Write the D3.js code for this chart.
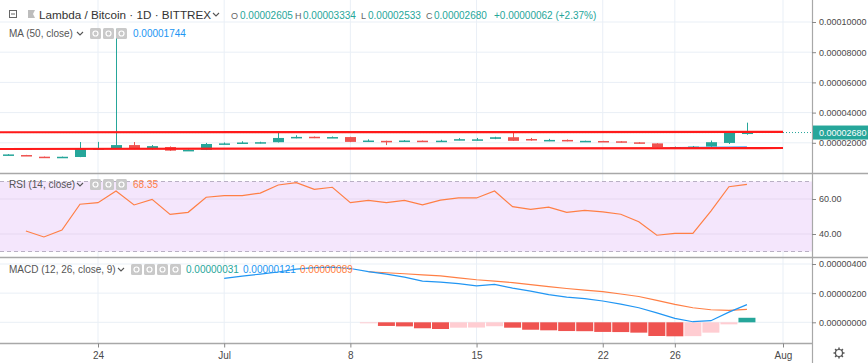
<!DOCTYPE html>
<html lang="en">
<head>
<meta charset="UTF-8">
<title>Lambda / Bitcoin</title>
<script src="https://d3js.org/d3.v7.min.js"></script>
<style>
  body { margin: 0; background: #fff; }
  svg { display: block; font-family: "Liberation Sans", Arial, sans-serif; }
</style>
</head>
<body>
<div id="chart"></div>
<script>
// daily candles from Jun 19 to Jul 30, prices in satoshi
const firstDay = Date.UTC(2018, 5, 19);
const SAT = 1e-8;
const opens  = [1200,1190,1080,1050,1060,1600,1600,1850,1600,1720,1480,1530,1920,1960,1980,2040,2330,2400,2330,2380,2090,2130,2100,2140,2080,2180,2180,2260,2370,2250,2130,2190,2100,2120,2100,2030,1960,1700,1720,1750,1990,2605];
const highs  = [1250,1200,1090,1085,2050,2060,9550,2050,1850,1760,1560,1990,2020,2100,2070,2780,2500,2420,2420,2400,2230,2140,2180,2150,2200,2310,2320,2400,2780,2320,2260,2220,2140,2130,2110,2040,1970,1750,1790,2150,2750,3334];
const lows   = [1190,1140,1040,1045,1050,1590,1580,1580,1560,1460,1460,1520,1900,1950,1960,2020,2300,2310,2320,2040,2050,1850,2080,2090,2060,2170,2150,2240,2120,2140,2110,2100,2090,2080,2020,1950,1700,1630,1700,1730,1920,2533];
const closes = [1230,1150,1050,1075,1600,1640,1850,1600,1780,1480,1530,1920,1960,2020,2040,2320,2390,2330,2380,2060,2150,2080,2150,2100,2140,2240,2230,2370,2130,2160,2190,2130,2130,2090,2030,1960,1720,1720,1750,2040,2720,2680];

// MA(50) only visible on the last days
const maStart = 37;
const maValues = [1690, 1700, 1715, 1730, 1744];

// RSI(14), starts on Jun 20
const rsiStart = 1;
const rsiValues = [41.7,38.3,42.3,57.0,57.9,64.6,56.6,59.8,51.2,52.4,61.0,61.9,61.9,63.4,68.0,69.3,65.5,66.7,57.9,59.2,57.9,59.2,56.6,59.4,60.6,60.6,64.6,55.6,54.1,55.3,52.4,53.5,52.6,51.3,47.0,39.3,40.4,40.4,53.1,67.0,68.35];

// MACD(12,26,9) in units of 1e-8
const macdStart = 12;
const macdValues = [301,317,331,345,365,375,379,369,348,331,310,283,276,266,250,260,235,214,190,173,163,146,125,100,65,27,4,11,70,121];
const signalStart = 20;
const signalValues = [347,340,333,325,319,305,292,283,272,259,245,232,221,211,194,177,150,123,100,86,82,89];
const histValues = [-2,-25,-28,-41,-46,-37,-36,-27,-37,-51,-55,-60,-61,-66,-67,-71,-94,-96,-95,-71,-14,31];

// drawn support / resistance lines
const lineDays = [Date.UTC(2018, 5, 18), Date.UTC(2018, 7, 1)];
const upperLine = [2700, 2720];
const lowerLine = [1590, 1655];

const timeTicks = [Date.UTC(2018,5,24), Date.UTC(2018,6,1), Date.UTC(2018,6,8), Date.UTC(2018,6,15), Date.UTC(2018,6,22), Date.UTC(2018,6,26), Date.UTC(2018,7,1)];
const timeLabels = ["24", "Jul", "8", "15", "22", "26", "Aug"];
const priceTicks = [0.00002, 0.00004, 0.00006, 0.00008, 0.0001];
const rsiTicks = [40, 60];
const macdTicks = [0, 0.000002, 0.000004];

const W = 868, H = 363, axisX = 812;
const teal = "#26a69a", red = "#ef5350", pink = "#ffcdd2", blue = "#2196f3", orange = "#ff7f45";
const gridColor = "#e9eff6", sepColor = "#a8a8a8", textColor = "#4a4a4a";

const days = closes.map((d, i) => new Date(d3.utcDay.offset(new Date(firstDay), i)));

const x = d3.scaleUtc().domain([timeTicks[0], timeTicks[6]]).range([98, 783]);
const yPrice = d3.scaleLinear().domain([0, 0.0001]).range([173, 22]);
const yRsi = d3.scaleLinear().domain([40, 60]).range([234, 199]);
const yMacd = d3.scaleLinear().domain([0, 0.000004]).range([322.3, 264]);

const svg = d3.select("#chart").append("svg").attr("width", W).attr("height", H);
svg.append("rect").attr("width", W).attr("height", H).attr("fill", "#fff");

const defs = svg.append("defs");
const panels = { price: [0, 173], rsi: [174, 257], macd: [258, 343] };
Object.entries(panels).forEach(([k, [y0, y1]]) => {
  defs.append("clipPath").attr("id", "clip-" + k)
    .append("rect").attr("x", 0).attr("y", y0).attr("width", axisX).attr("height", y1 - y0);
});

// grid
const grid = svg.append("g");
grid.selectAll("line.v").data(timeTicks).join("line")
  .attr("x1", d => x(d)).attr("x2", d => x(d)).attr("y1", 0).attr("y2", 343)
  .attr("stroke", gridColor);
const hGrid = (vals, scale) => grid.append("g").selectAll("line").data(vals).join("line")
  .attr("x1", 0).attr("x2", axisX).attr("y1", d => scale(d)).attr("y2", d => scale(d))
  .attr("stroke", gridColor);
hGrid(priceTicks, yPrice);
hGrid(macdTicks, yMacd);

// RSI band
const rsiG = svg.append("g").attr("clip-path", "url(#clip-rsi)");
rsiG.append("rect").attr("x", 0).attr("width", axisX)
  .attr("y", yRsi(70)).attr("height", yRsi(30) - yRsi(70)).attr("fill", "#f4e6fc");
rsiG.selectAll("line.g").data(rsiTicks).join("line")
  .attr("x1", 0).attr("x2", axisX).attr("y1", d => yRsi(d)).attr("y2", d => yRsi(d))
  .attr("stroke", "#e6d8f0");
rsiG.selectAll("line.b").data([70, 30]).join("line")
  .attr("x1", 0).attr("x2", axisX).attr("y1", d => yRsi(d)).attr("y2", d => yRsi(d))
  .attr("stroke", "#b9b0c4").attr("stroke-dasharray", "4,3");
rsiG.append("path")
  .datum(rsiValues.map((v, i) => [days[rsiStart + i], v]))
  .attr("fill", "none").attr("stroke", orange).attr("stroke-width", 1.2)
  .attr("d", d3.line().x(d => x(d[0])).y(d => yRsi(d[1])));

// price panel
const priceG = svg.append("g").attr("clip-path", "url(#clip-price)");
const lastClose = closes[closes.length - 1] * SAT;
priceG.append("line").attr("x1", 0).attr("x2", axisX)
  .attr("y1", yPrice(lastClose)).attr("y2", yPrice(lastClose))
  .attr("stroke", teal).attr("stroke-dasharray", "1,2");

const candles = closes.map((c, i) => ({ day: days[i], o: opens[i] * SAT, h: highs[i] * SAT, l: lows[i] * SAT, c: c * SAT }));
const cg = priceG.selectAll("g.candle").data(candles).join("g");
cg.append("line")
  .attr("x1", d => Math.round(x(d.day)) + 0.5).attr("x2", d => Math.round(x(d.day)) + 0.5)
  .attr("y1", d => yPrice(d.h)).attr("y2", d => yPrice(d.l))
  .attr("stroke", d => d.c >= d.o ? teal : red);
cg.append("rect")
  .attr("x", d => Math.round(x(d.day)) - 5).attr("width", 11)
  .attr("y", d => yPrice(Math.max(d.o, d.c)))
  .attr("height", d => Math.max(1.5, Math.abs(yPrice(d.o) - yPrice(d.c))))
  .attr("fill", d => d.c >= d.o ? teal : red);

priceG.append("path")
  .datum(maValues.map((v, i) => [days[maStart + i], v * SAT]))
  .attr("fill", "none").attr("stroke", blue).attr("stroke-opacity", 0.6).attr("stroke-width", 1.2)
  .attr("d", d3.line().x(d => x(d[0])).y(d => yPrice(d[1])));

[upperLine, lowerLine].forEach(vals => {
  priceG.append("line")
    .attr("x1", x(lineDays[0])).attr("x2", x(lineDays[1]))
    .attr("y1", yPrice(vals[0] * SAT)).attr("y2", yPrice(vals[1] * SAT))
    .attr("stroke", "#ff1a1a").attr("stroke-width", 2.2);
});

// MACD panel
const macdG = svg.append("g").attr("clip-path", "url(#clip-macd)");
macdG.selectAll("rect").data(histValues).join("rect")
  .attr("x", (d, i) => x(days[signalStart + i]) - 8.5).attr("width", 17)
  .attr("y", d => yMacd(Math.max(0, d * SAT)))
  .attr("height", d => Math.max(1, Math.abs(yMacd(d * SAT) - yMacd(0))))
  .attr("fill", (d, i) => {
    const prev = i > 0 ? histValues[i - 1] : null;
    if (d >= 0) return teal;
    return prev !== null && d < prev ? red : pink;
  });
const macdLine = d3.line().x(d => x(d[0])).y(d => yMacd(d[1]));
macdG.append("path")
  .datum(signalValues.map((v, i) => [days[signalStart + i], v * SAT]))
  .attr("fill", "none").attr("stroke", orange).attr("stroke-width", 1.2).attr("d", macdLine);
macdG.append("path")
  .datum(macdValues.map((v, i) => [days[macdStart + i], v * SAT]))
  .attr("fill", "none").attr("stroke", blue).attr("stroke-width", 1.2).attr("d", macdLine);

// separators and axis line
svg.selectAll("line.sep").data([173.5, 257.5]).join("line")
  .attr("x1", 0).attr("x2", W).attr("y1", d => d).attr("y2", d => d)
  .attr("stroke", sepColor).attr("stroke-width", 1.5);
svg.append("line").attr("x1", 0).attr("x2", axisX).attr("y1", 343.5).attr("y2", 343.5)
  .attr("stroke", sepColor).attr("stroke-width", 1.5);
svg.append("line").attr("x1", axisX + 0.5).attr("x2", axisX + 0.5).attr("y1", 0).attr("y2", H)
  .attr("stroke", sepColor).attr("stroke-width", 1.2);

// right axes
const styleAxis = g => {
  g.select(".domain").remove();
  g.selectAll(".tick line").attr("stroke", "#888");
  g.selectAll(".tick text").attr("fill", textColor).attr("font-size", 9).attr("font-family", "Liberation Sans, Arial, sans-serif");
};
svg.append("g").attr("transform", `translate(${axisX},0)`)
  .call(d3.axisRight(yPrice).tickValues(priceTicks).tickFormat(d3.format(".8f")).tickSize(4).tickPadding(3))
  .call(styleAxis);
svg.append("g").attr("transform", `translate(${axisX},0)`)
  .call(d3.axisRight(yRsi).tickValues(rsiTicks).tickFormat(d3.format(".2f")).tickSize(4).tickPadding(3))
  .call(styleAxis);
svg.append("g").attr("transform", `translate(${axisX},0)`)
  .call(d3.axisRight(yMacd).tickValues(macdTicks).tickFormat(d3.format(".8f")).tickSize(4).tickPadding(3))
  .call(styleAxis);

// last price tag
const tagY = yPrice(lastClose);
svg.append("rect").attr("x", axisX + 1).attr("y", tagY - 7).attr("width", W - axisX - 1).attr("height", 14).attr("fill", teal);
svg.append("text").attr("x", axisX + 7).attr("y", tagY + 3.5).attr("fill", "#fff").attr("font-size", 9)
  .text(d3.format(".8f")(lastClose));

// time axis
svg.append("g").attr("transform", "translate(0,343.5)")
  .call(d3.axisBottom(x).tickValues(timeTicks).tickFormat((d, i) => timeLabels[i]).tickSize(4).tickPadding(4))
  .call(g => {
    g.select(".domain").remove();
    g.selectAll(".tick line").attr("stroke", "#888");
    g.selectAll(".tick text").attr("fill", textColor).attr("font-size", 10).attr("font-family", "Liberation Sans, Arial, sans-serif");
  });

// gear icon
const gear = svg.append("g").attr("transform", "translate(839,353)").attr("stroke", "#555").attr("fill", "none");
gear.append("circle").attr("r", 3.5).attr("stroke-width", 1.2);
gear.selectAll("line").data(d3.range(8)).join("line")
  .attr("x1", d => 3.5 * Math.cos(d * Math.PI / 4)).attr("y1", d => 3.5 * Math.sin(d * Math.PI / 4))
  .attr("x2", d => 5.5 * Math.cos(d * Math.PI / 4)).attr("y2", d => 5.5 * Math.sin(d * Math.PI / 4))
  .attr("stroke-width", 1.5);

// legend rows
const fmt8 = d3.format(".8f");
const iconRow = (x0, y0, n) => {
  for (let i = 0; i < n; i++) {
    svg.append("rect").attr("x", x0 + i * 13).attr("y", y0 - 9).attr("width", 11).attr("height", 11)
      .attr("rx", 1.5).attr("fill", "#c9c9c9");
    svg.append("circle").attr("cx", x0 + i * 13 + 5.5).attr("cy", y0 - 3.5).attr("r", 2.5)
      .attr("fill", "none").attr("stroke", "#fff").attr("stroke-width", 1.2);
  }
};
const chevron = (x0, y0) => svg.append("path")
  .attr("d", `M${x0},${y0 - 4} l3,3 l3,-3`).attr("fill", "none").attr("stroke", "#555").attr("stroke-width", 1.1);
const txt = (x0, y0, s, color, size) => svg.append("text").attr("x", x0).attr("y", y0)
  .attr("fill", color).attr("font-size", size).text(s);

// title row
svg.append("rect").attr("x", 9.5).attr("y", 10.5).attr("width", 7).attr("height", 7).attr("fill", "none").attr("stroke", "#666");
svg.append("line").attr("x1", 11).attr("x2", 15).attr("y1", 14).attr("y2", 14).attr("stroke", "#666");
svg.append("path").attr("d", "M28,10 h7 l-2,4 l2,4 h-7 z").attr("fill", "#bdbdbd");
txt(39, 19, "Lambda / Bitcoin · 1D · BITTREX", "#333", 11.7);
chevron(213, 17);
const ohlcKeys = ["O", "H", "L", "C"];
const ohlcArrays = [opens, highs, lows, closes];
const keyX = [231, 295, 361, 426];
const valX = [240, 303, 368, 434];
ohlcKeys.forEach((k, i) => {
  const arr = ohlcArrays[i];
  txt(keyX[i], 19, k, "#666", 9);
  txt(valX[i], 19, fmt8(arr[arr.length - 1] * SAT), teal, 10);
});
txt(494, 19, "+0.00000062 (+2.37%)", teal, 10);

txt(9, 37, "MA (50, close)", "#555", 10);
chevron(77, 36);
iconRow(90, 37, 3);
txt(133, 37, fmt8(maValues[maValues.length - 1] * SAT), blue, 10);

txt(9, 188, "RSI (14, close)", "#555", 10);
chevron(77, 187);
iconRow(90, 188, 3);
txt(133, 188, d3.format(".2f")(rsiValues[rsiValues.length - 1]), orange, 10);

txt(9, 273, "MACD (12, 26, close, 9)", "#555", 10);
chevron(118, 272);
iconRow(131, 273, 4);
txt(186, 273, fmt8(histValues[histValues.length - 1] * SAT), teal, 10);
txt(243, 273, fmt8(macdValues[macdValues.length - 1] * SAT), blue, 10);
txt(300, 273, fmt8(signalValues[signalValues.length - 1] * SAT), orange, 10);
</script>
</body>
</html>
